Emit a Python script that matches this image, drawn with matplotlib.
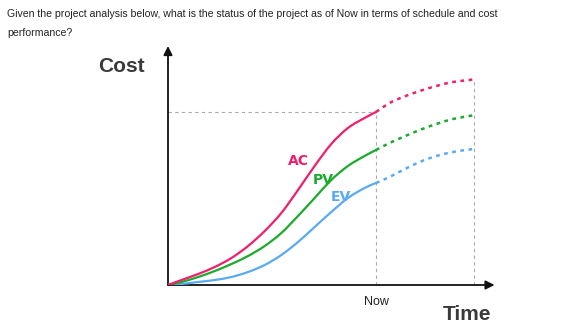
import matplotlib
matplotlib.use("Agg")
import matplotlib.pyplot as plt
from matplotlib.path import Path
from matplotlib.patches import PathPatch

# valores (tiempo, costo)
t_real = [0, 1.3, 2.9, 4.5, 6.1, 7.7, 9.3, 10.9, 12.5, 14.1, 15.7, 17.3, 18.9, 20]
ac = [0, 5, 11, 18, 27, 39, 54, 72, 95, 119, 141, 157, 167, 173]
pv = [0, 3, 8, 14, 21, 29, 39, 52, 69, 87, 105, 119, 129, 135]
ev = [0, 1, 3, 5, 8, 13, 20, 30, 43, 58, 73, 87, 97, 102]

# proyeccion (punteada) despues de "Now"
t_proy = [20, 21.3, 22.6, 24.2, 25.8, 27.4, 29.0, 29.4]
ac_proy = [173, 182, 188, 194, 199, 203, 205, 206]
pv_proy = [135, 142, 148, 155, 161, 166, 169, 170]
ev_proy = [102, 108, 115, 123, 129, 133, 135.5, 136]

t_now = 20
t_fin = 29.4

colores = {'AC': '#f01e6c', 'PV': '#1caa2c', 'EV': '#5aa9f4'}


def curva_suave(ax, xs, ys, **kw):
    # trazo suave (Catmull-Rom como Bezier) que pasa por los puntos leidos
    pts = list(zip(xs, ys))
    ext = [pts[0]] + pts + [pts[-1]]
    verts = [pts[0]]
    codes = [Path.MOVETO]
    for i in range(1, len(ext) - 2):
        p0, p1, p2, p3 = ext[i - 1], ext[i], ext[i + 1], ext[i + 2]
        c1 = (p1[0] + (p2[0] - p0[0]) / 6, p1[1] + (p2[1] - p0[1]) / 6)
        c2 = (p2[0] - (p3[0] - p1[0]) / 6, p2[1] - (p3[1] - p1[1]) / 6)
        verts += [c1, c2, p2]
        codes += [Path.CURVE4] * 3
    ax.add_patch(PathPatch(Path(verts, codes), fill=False, **kw))


W, H = 587, 328
fig = plt.figure(figsize=(W / 100, H / 100), dpi=100)
ax = fig.add_axes([168 / W, 43 / H, 332.8 / W, 240 / H])
ax.set_xlim(0, 32)
ax.set_ylim(0, 240)
ax.axis('off')

# lineas guia grises
gris = dict(color='#aaaaaa', lw=0.8, ls=(0, (3, 3)))
ax.plot([0, t_now], [ac[-1], ac[-1]], **gris)
ax.plot([t_now, t_now], [0, ac[-1]], **gris)
ax.plot([t_fin, t_fin], [0, ac_proy[-1]], **gris)

# ejes con flecha
flecha = dict(arrowstyle='-|>', lw=1.3, color='#111111', mutation_scale=13,
              shrinkA=0, shrinkB=0)
ax.annotate('', xy=(0, 239), xytext=(0, 0), arrowprops=flecha)
ax.annotate('', xy=(31.4, 0), xytext=(0, 0), arrowprops=flecha)

# curvas
for nombre, real, proy in [('EV', ev, ev_proy), ('PV', pv, pv_proy), ('AC', ac, ac_proy)]:
    c = colores[nombre]
    curva_suave(ax, t_real, real, edgecolor=c, lw=1.6, capstyle='round', zorder=3)
    curva_suave(ax, t_proy, proy, edgecolor=c, lw=1.8, ls=(0, (1.5, 1.8)), zorder=3)

ax.text(12.5, 124, 'AC', color=colores['AC'], fontsize=10, fontweight='bold',
        ha='center', va='center', family='DejaVu Sans')
ax.text(14.9, 105, 'PV', color=colores['PV'], fontsize=10, fontweight='bold',
        ha='center', va='center', family='DejaVu Sans')
ax.text(16.6, 88, 'EV', color=colores['EV'], fontsize=10, fontweight='bold',
        ha='center', va='center', family='DejaVu Sans')

ax.text(t_now, -17, 'Now', ha='center', va='center', fontsize=9, color='#222222',
        family='Liberation Sans')

fig.text(121 / W, 1 - 67 / H, 'Cost', ha='center', va='center', fontsize=15,
         fontweight='bold', color='#3a3a3a', family='Liberation Sans')
fig.text(467 / W, 1 - 315 / H, 'Time', ha='center', va='center', fontsize=15,
         fontweight='bold', color='#3a3a3a', family='Liberation Sans')

fig.text(7 / W, 1 - 14 / H,
         'Given the project analysis below, what is the status of the project as of Now in terms of schedule and cost',
         ha='left', va='center', fontsize=7.6, color='#222222', family='Liberation Sans')
fig.text(7 / W, 1 - 33 / H, 'performance?', ha='left', va='center', fontsize=7.6,
         color='#222222', family='Liberation Sans')

fig.savefig('out.png', dpi=100)
